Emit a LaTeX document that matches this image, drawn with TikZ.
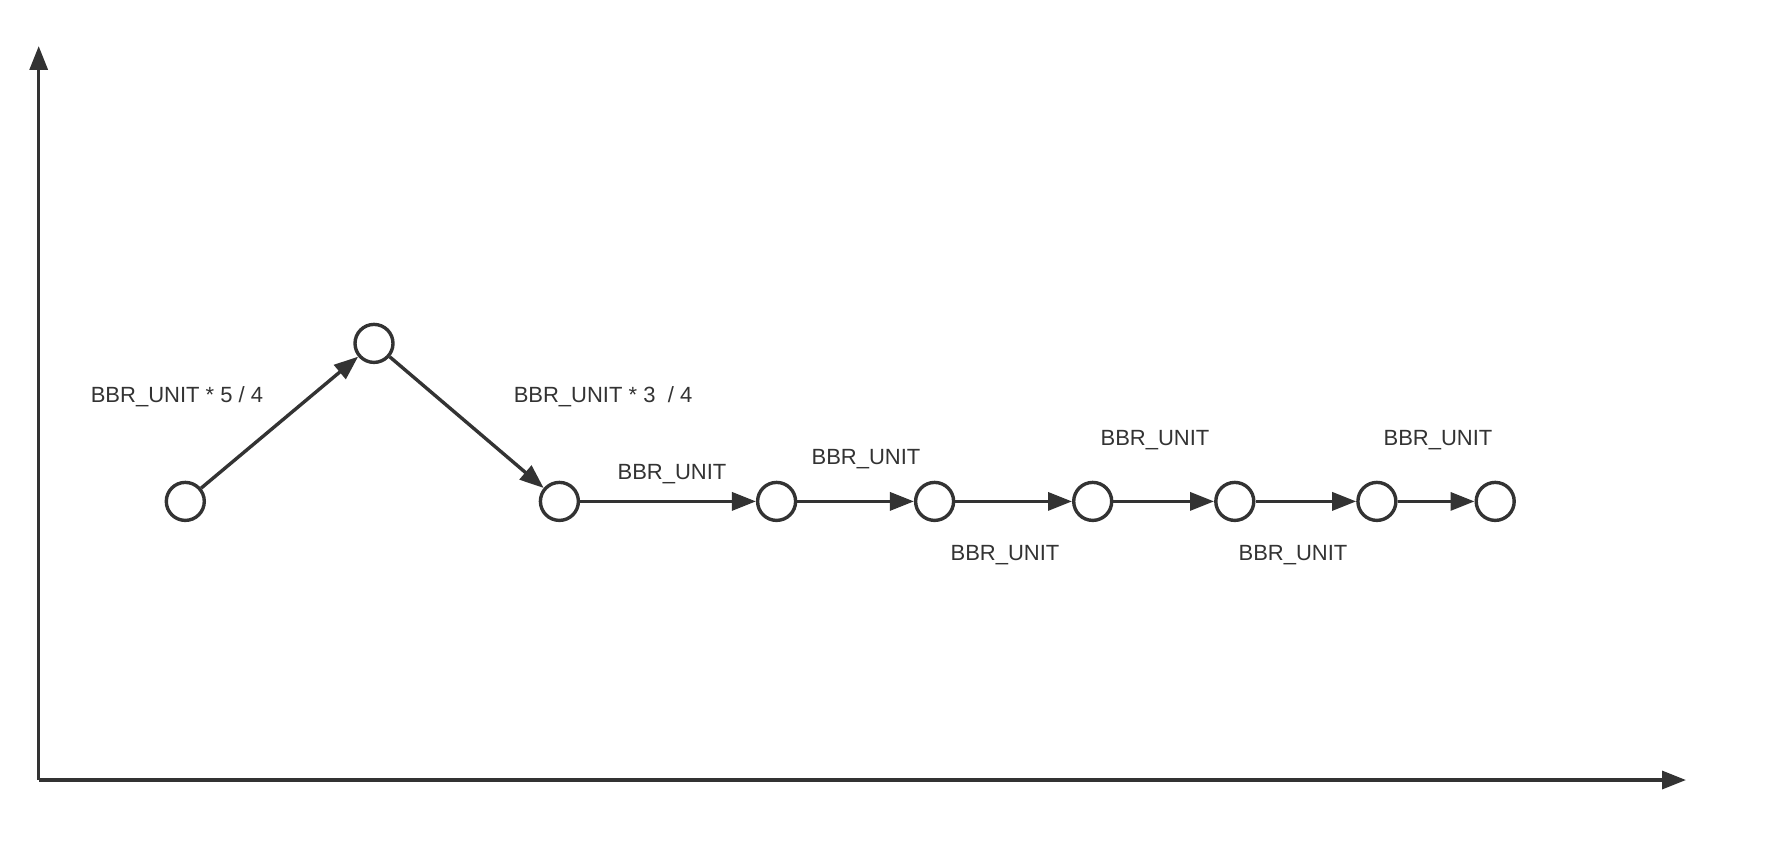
\documentclass[tikz,border=0pt]{standalone}
\usepackage{fontspec}
\setmainfont{Liberation Sans}
\usetikzlibrary{arrows.meta}
\definecolor{ink}{HTML}{333333}
\begin{document}
\begin{tikzpicture}[x=1pt,y=-1pt,
  dot/.style={circle,draw=ink,line width=3.4pt,minimum size=38pt,inner sep=0pt,fill=white},
  conn/.style={draw=ink,line width=3.4pt,-{Triangle[length=24pt,width=18pt]}},
  lbl/.style={text=ink,font=\fontsize{22}{26}\selectfont,inner sep=0pt}]
\useasboundingbox (0,0) rectangle (1782,864);
\coordinate (o) at (38.7,780);
\coordinate (yt) at (38.7,46);
\coordinate (xt) at (1686,780);
\draw[conn] (o) -- (yt);
\draw[conn] (o) -- (xt);
\node[dot] (n1) at (185.3,501.4) {};
\node[dot] (n2) at (374,343.4) {};
\node[dot] (n3) at (559.4,501.4) {};
\node[dot] (n4) at (776.6,501.4) {};
\node[dot] (n5) at (934.6,501.4) {};
\node[dot] (n6) at (1092.7,501.4) {};
\node[dot] (n7) at (1234.8,501.4) {};
\node[dot] (n8) at (1376.9,501.4) {};
\node[dot] (n9) at (1495.2,501.4) {};
\foreach \a/\b in {n1/n2,n2/n3,n3/n4,n4/n5,n5/n6,n6/n7,n7/n8,n8/n9}
  \draw[conn] (\a) -- (\b);
\node[lbl] (l1) at (177,397) {BBR\_UNIT * 5 / 4};
\node[lbl] (l2) at (603,397) {BBR\_UNIT * 3 \ / 4};
\node[lbl] (l3) at (672,474) {BBR\_UNIT};
\node[lbl] (l4) at (866,459) {BBR\_UNIT};
\node[lbl] (l5) at (1005,555) {BBR\_UNIT};
\node[lbl] (l6) at (1155,440) {BBR\_UNIT};
\node[lbl] (l7) at (1293,555) {BBR\_UNIT};
\node[lbl] (l8) at (1438,440) {BBR\_UNIT};
\end{tikzpicture}
\end{document}
